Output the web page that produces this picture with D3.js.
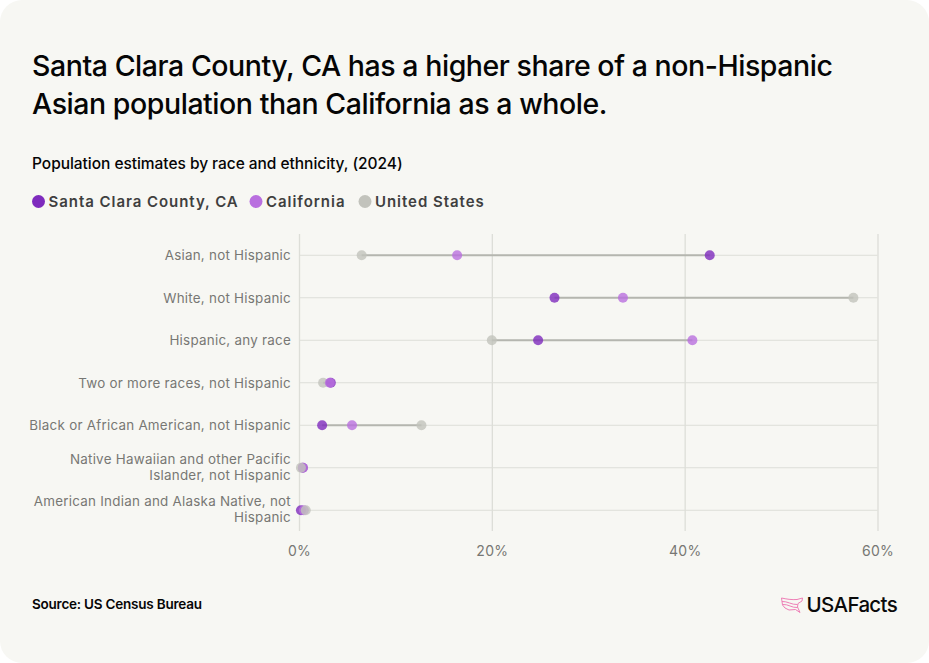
<!DOCTYPE html>
<html>
<head>
<meta charset="utf-8">
<script src="https://cdn.jsdelivr.net/npm/d3@7"></script>
<style>
html,body{margin:0;padding:0;background:#fff;}
svg{display:block;}
text{font-family:Inter,"Noto Sans",sans-serif;}
</style>
</head>
<body>
<svg id="chart" width="929" height="663"></svg>
<script>
// Population shares in percent, 2024
const categories = [
  "Asian, not Hispanic",
  "White, not Hispanic",
  "Hispanic, any race",
  "Two or more races, not Hispanic",
  "Black or African American, not Hispanic",
  "Native Hawaiian and other Pacific Islander, not Hispanic",
  "American Indian and Alaska Native, not Hispanic"
];
const categoryLines = [
  ["Asian, not Hispanic"],
  ["White, not Hispanic"],
  ["Hispanic, any race"],
  ["Two or more races, not Hispanic"],
  ["Black or African American, not Hispanic"],
  ["Native Hawaiian and other Pacific", "Islander, not Hispanic"],
  ["American Indian and Alaska Native, not", "Hispanic"]
];
const seriesNames = ["Santa Clara County, CA", "California", "United States"];
const seriesColors = ["#7e2bbd", "#b96fdf", "#c2c3bc"];
const santaClara = [42.6, 26.5, 24.8, 3.3, 2.4, 0.4, 0.2];
const california = [16.4, 33.6, 40.8, 3.2, 5.5, 0.4, 0.5];
const unitedStates = [6.5, 57.5, 20.0, 2.5, 12.7, 0.2, 0.7];
const xTicks = [0, 20, 40, 60];
// Paint order of the three series within each row (last one sits on top)
const paintOrder = [
  [0, 1, 2], [0, 1, 2], [0, 1, 2], [2, 0, 1], [0, 1, 2], [0, 1, 2], [0, 1, 2]
];

const svg = d3.select("#chart");

// Card
svg.append("rect").attr("width", 929).attr("height", 663).attr("rx", 22).attr("fill", "#f7f7f3");

// Heading block
const ink = "#050505";
[["Santa Clara County, CA has a higher share of a non-Hispanic", 76],
 ["Asian population than California as a whole.", 114]].forEach(([t, y]) => {
  svg.append("text").attr("x", 32).attr("y", y).text(t)
    .attr("font-size", 28.5).attr("font-weight", 500).attr("letter-spacing", -0.45).attr("fill", ink);
});
svg.append("text").attr("x", 32).attr("y", 169).text("Population estimates by race and ethnicity, (2024)")
  .attr("font-size", 15.5).attr("font-weight", 500).attr("letter-spacing", -0.04).attr("fill", ink);

// Legend
const legendX = [38.5, 256, 365];
seriesNames.forEach((name, i) => {
  svg.append("circle").attr("cx", legendX[i]).attr("cy", 201.5).attr("r", 6.5).attr("fill", seriesColors[i]);
  svg.append("text").attr("x", legendX[i] + 10).attr("y", 206.5).text(name)
    .attr("font-size", 15).attr("font-weight", 600).attr("letter-spacing", 0.95).attr("fill", "#3f3f3f");
});

// Scales
const x = d3.scaleLinear().domain([0, 60]).range([299, 877.5]);
const y = d3.scaleBand().domain(categories).range([234, 531.5]);
const rowY = c => y(c) + y.bandwidth() / 2;

const gridColor = "#dddeD8";

// Value axis with full-height gridlines
const xAxis = svg.append("g").attr("transform", "translate(0,531)")
  .call(d3.axisBottom(x).tickValues(xTicks).tickFormat(d => d + "%").tickSize(0).tickPadding(15));
xAxis.select(".domain").remove();
xAxis.selectAll("text").attr("font-size", 14).attr("fill", "#777774").attr("font-family", "Inter").attr("letter-spacing", 0.3);
xAxis.selectAll(".tick").append("line")
  .attr("y1", -297).attr("y2", 0).attr("stroke", gridColor).attr("stroke-width", 1.3);

// Category axis with row lines and wrapped labels
const yAxis = svg.append("g").attr("transform", "translate(299,0)")
  .call(d3.axisLeft(y).tickSize(0).tickFormat(""));
yAxis.select(".domain").remove();
yAxis.selectAll(".tick").append("line")
  .attr("x1", 0).attr("x2", 578.5).attr("stroke", gridColor).attr("stroke-width", 1);
yAxis.selectAll(".tick").each(function (c, i) {
  const lines = categoryLines[i];
  const t = d3.select(this).select("text").attr("x", -8).attr("text-anchor", "end").attr("dy", null);
  lines.forEach((line, k) => {
    t.append("tspan").attr("x", -8)
      .attr("y", lines.length === 1 ? 5 : (k === 0 ? -4 : 12))
      .text(line);
  });
  t.attr("font-size", 13.4).attr("fill", "#777774").attr("font-family", "Inter").attr("letter-spacing", 0.25);
});

// Connector from lowest to highest estimate in each row
const rows = categories.map((c, i) => ({c, vals: [santaClara[i], california[i], unitedStates[i]]}));
svg.append("g").selectAll("line").data(rows).join("line")
  .attr("x1", d => x(d3.min(d.vals))).attr("x2", d => x(d3.max(d.vals)))
  .attr("y1", d => rowY(d.c)).attr("y2", d => rowY(d.c))
  .attr("stroke", "#b5b6af").attr("stroke-width", 2);

// Dots, one group per row so each row keeps its own stacking
svg.append("g").selectAll("g").data(rows).join("g")
  .each(function (row, r) {
    d3.select(this).selectAll("circle").data(paintOrder[r]).join("circle")
      .attr("cx", s => x(row.vals[s])).attr("cy", rowY(row.c))
      .attr("r", 5).attr("fill", s => seriesColors[s]).attr("fill-opacity", 0.8);
  });

// Source line
svg.append("text").attr("x", 32).attr("y", 609).text("Source: US Census Bureau")
  .attr("font-size", 13.5).attr("font-weight", 600).attr("letter-spacing", -0.22).attr("fill", ink);

// Wordmark with a stylised map outline
const logo = svg.append("g").attr("fill", "none").attr("stroke", "#ee7fb6").attr("stroke-width", 1).attr("stroke-linejoin", "round");
logo.append("path").attr("d", "M781.5 598 C786 599 792 600 797 599.5 L802.5 598 L802 601 L798 603.5 L797.5 607 L800 612.5 L795.5 609.5 L789 610 L785 608 L782.5 605 Z");
logo.append("path").attr("d", "M782 601.5 C787 601 792 605 797.5 604.5");
logo.append("path").attr("d", "M783 604.5 C788 604 792 608 797.5 607.5");
svg.append("text").attr("x", 806.5).attr("y", 612).text("USAFacts")
  .attr("font-size", 20.5).attr("font-weight", 500).attr("letter-spacing", -0.65).attr("fill", "#0a0a0a");
</script>
</body>
</html>
